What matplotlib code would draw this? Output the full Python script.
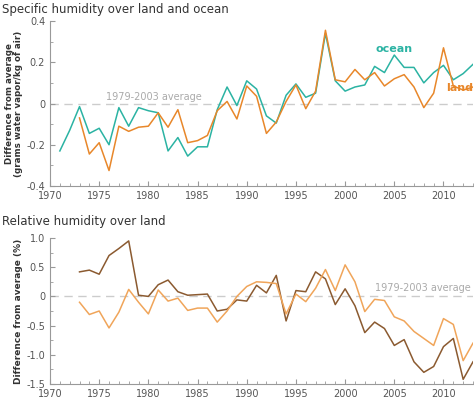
import matplotlib
matplotlib.use('Agg')
import matplotlib.pyplot as plt
from matplotlib.ticker import MultipleLocator

ocean_years = list(range(1971, 2014))
ocean = [-0.23, -0.13, -0.015, -0.145, -0.12, -0.2, -0.02, -0.11, -0.02, -0.035,
         -0.045, -0.23, -0.165, -0.255, -0.21, -0.21, -0.03, 0.08, -0.01, 0.11,
         0.07, -0.06, -0.095, 0.04, 0.095, 0.03, 0.05, 0.34, 0.11, 0.06,
         0.08, 0.09, 0.18, 0.15, 0.235, 0.175, 0.175, 0.1, 0.15, 0.185,
         0.115, 0.145, 0.19]
land_years = list(range(1973, 2014))
land = [-0.07, -0.245, -0.19, -0.325, -0.11, -0.135, -0.115, -0.11, -0.045, -0.115,
        -0.03, -0.19, -0.18, -0.155, -0.035, 0.01, -0.075, 0.085, 0.035, -0.145,
        -0.09, 0.01, 0.09, -0.025, 0.06, 0.355, 0.115, 0.105, 0.165, 0.115,
        0.15, 0.085, 0.12, 0.14, 0.08, -0.02, 0.05, 0.27, 0.085, 0.065, 0.08]
rh_dark = [0.42, 0.45, 0.38, 0.7, 0.82, 0.95, 0.02, 0.0, 0.2, 0.28,
           0.08, 0.02, 0.03, 0.04, -0.25, -0.22, -0.06, -0.08, 0.19, 0.06,
           0.36, -0.42, 0.1, 0.08, 0.42, 0.3, -0.14, 0.13, -0.16, -0.62,
           -0.44, -0.55, -0.84, -0.74, -1.12, -1.3, -1.2, -0.86, -0.72, -1.42, -1.12]
rh_light = [-0.1, -0.31, -0.25, -0.54, -0.27, 0.12, -0.1, -0.3, 0.11, -0.08,
            -0.03, -0.24, -0.2, -0.2, -0.44, -0.25, 0.0, 0.17, 0.25, 0.24,
            0.22, -0.3, 0.04, -0.09, 0.14, 0.46, 0.1, 0.54, 0.25, -0.26,
            -0.05, -0.07, -0.35, -0.42, -0.6, -0.72, -0.84, -0.38, -0.48, -1.1, -0.8]

TEAL = '#2bb3a3'
ORANGE = '#e8872a'
DARK = '#8b5a30'
LIGHT = '#f0a55a'
GRAY = '#555555'

fig = plt.figure(figsize=(4.74, 4.07), dpi=100)
ax1 = fig.add_axes([50/474, 1-186/407, 423/474, 165/407])
ax2 = fig.add_axes([50/474, 1-384/407, 423/474, 146/407])

def style(ax):
    for s in ['top', 'right']:
        ax.spines[s].set_visible(False)
    ax.spines['left'].set_color('#999999')
    ax.spines['bottom'].set_color('#999999')
    ax.set_xlim(1970, 2013)
    ax.xaxis.set_major_locator(MultipleLocator(5))
    ax.xaxis.set_minor_locator(MultipleLocator(1))
    ax.tick_params(which='both', colors='#999999', labelcolor=GRAY, labelsize=7, direction='in')
    ax.tick_params(which='minor', length=2)
    ax.axhline(0, color='#cccccc', lw=1, dashes=(6, 4), zorder=0)

ax1.plot(ocean_years, ocean, color=TEAL, lw=1.1)
ax1.plot(land_years, land, color=ORANGE, lw=1.1)
style(ax1)
ax1.set_ylim(-0.4, 0.4)
ax1.set_yticks([-0.4, -0.2, 0, 0.2, 0.4])
ax1.set_yticklabels(['-0.4', '-0.2', '0', '0.2', '0.4'])
ax1.yaxis.set_minor_locator(MultipleLocator(0.1))
ax1.text(1980.6, 0.005, '1979-2003 average', color='#aaaaaa', fontsize=7, ha='center', va='bottom')
ax1.text(2005, 0.25, 'ocean', color=TEAL, fontsize=8, fontweight='bold', ha='center')
ax1.text(2013, 0.06, 'land', color=ORANGE, fontsize=8, fontweight='bold', ha='right')
ax1.set_ylabel('Difference from average\n(grams water vapor/kg of air)', fontsize=6.3,
               color='#333333', fontweight='bold', labelpad=2, linespacing=1.0)
fig.text(0.005, 1-10/407, 'Specific humidity over land and ocean', fontsize=8.5, color='#333333', va='center')

years2 = list(range(1973, 2014))
ax2.plot(years2, rh_dark, color=DARK, lw=1.1)
ax2.plot(years2, rh_light, color=LIGHT, lw=1.1)
style(ax2)
ax2.set_ylim(-1.5, 1.0)
ax2.set_yticks([-1.5, -1.0, -0.5, 0, 0.5, 1.0])
ax2.set_yticklabels(['-1.5', '-1.0', '-0.5', '0', '0.5', '1.0'])
ax2.yaxis.set_minor_locator(MultipleLocator(0.25))
ax2.text(2007.9, 0.05, '1979-2003 average', color='#aaaaaa', fontsize=7, ha='center', va='bottom')
ax2.set_ylabel('Difference from average (%)', fontsize=6.5, color='#333333', fontweight='bold', labelpad=2)
fig.text(0.005, 1-221/407, 'Relative humidity over land', fontsize=8.5, color='#333333', va='center')

fig.savefig('out.png', dpi=100)
